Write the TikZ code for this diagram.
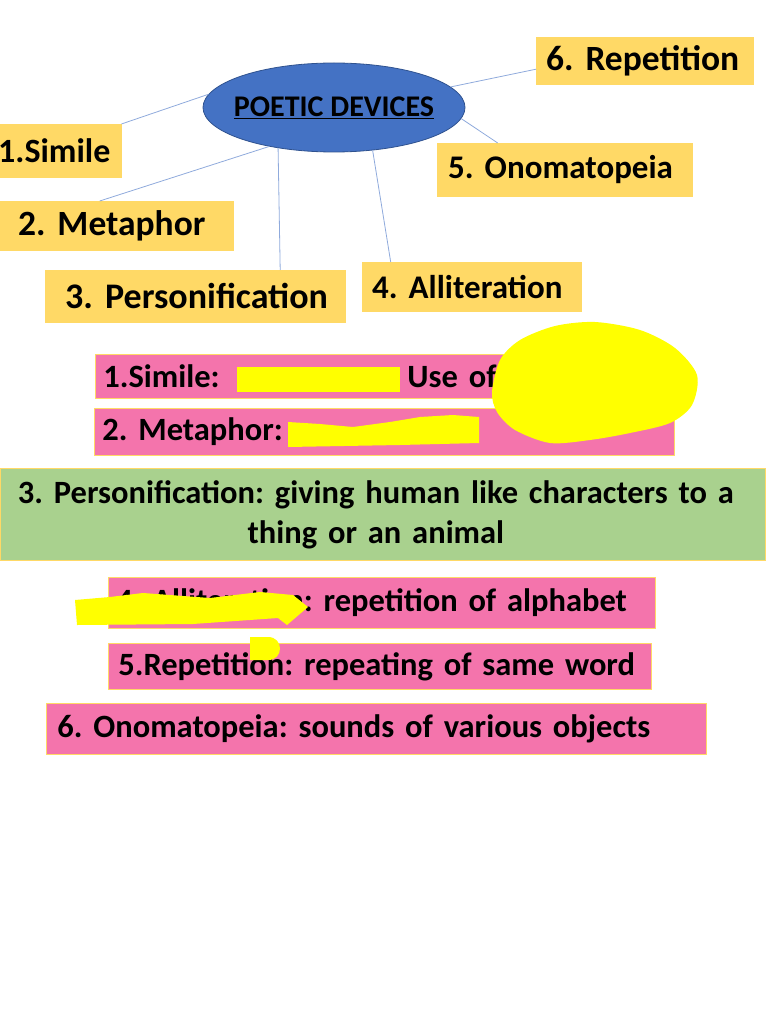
\documentclass[tikz,border=0pt]{standalone}
\usepackage{fontspec}
\setmainfont{Carlito}
\usetikzlibrary{shapes.geometric}
\frenchspacing

\definecolor{devblue}{RGB}{68,114,196}
\definecolor{devedge}{RGB}{47,82,143}
\definecolor{linkblue}{RGB}{143,170,220}
\definecolor{tagyellow}{RGB}{255,217,102}
\definecolor{notepink}{RGB}{244,116,172}
\definecolor{notegreen}{RGB}{169,209,142}
\definecolor{marker}{RGB}{255,255,0}

\tikzset{%
  tag/.style={fill=tagyellow, draw=tagyellow, anchor=north west,
    align=left, inner ysep=0pt, font=\bfseries\fontsize{#1}{42}\selectfont},
  note/.style={fill=notepink, draw=tagyellow, line width=0.8pt, anchor=north west,
    align=left, inner ysep=0pt, font=\bfseries\fontsize{32.5}{40}\selectfont},
  link/.style={draw=linkblue, line width=0.8pt},
  blot/.style={fill=marker, draw=none}
}

\begin{document}
\begin{tikzpicture}[x=1pt, y=-1pt]
     \useasboundingbox (0,0) rectangle (768,1024);

     % the centre
     \node[ellipse, fill=devblue, draw=devedge, line width=0.8pt,
           minimum width=262, minimum height=89, inner sep=0pt,
           font=\bfseries\fontsize{30}{34}\selectfont] (dev) at (334,107.5)
           {\makebox[0pt]{\underline{POETIC DEVICES}}};

     % the six devices round it
     \foreach \n/\x/\y/\w/\h/\p/\s/\t in
       { rep/536/37/217/47/10/35.5/{6. Repetition},
         sim/-6/124/127/53/4/34/{1.Simile},
         ono/437/143/255/53/11/33/{5. Onomatopeia},
         met/0/201/233/49/18/35.5/{2. Metaphor},
         per/45/270/300/52/20/36/{3. Personification},
         all/362/262/219/49/10/33/{4. Alliteration}
       }
       {
       \pgfmathsetmacro\tw{\w-2*\p}
       \node[tag=\s, inner xsep=\p pt, text width=\tw pt, minimum height=\h pt] (\n) at (\x,\y) {\mbox{\t}};
       }

     \draw[link] (dev.174) -- (sim.north east);
     \draw[link] (dev.211) -- ([xshift=-17pt]met.north);
     \draw[link] (dev.216) -- ([xshift=85pt]per.north);
     \draw[link] (dev.312) -- ([xshift=-81pt]all.north);
     \draw[link] (dev.355) -- ([xshift=-67pt]ono.north);
     \draw[link] (dev.10) -- ([yshift=-8.5pt]rep.west);

     % the notes
     \foreach \n/\x/\y/\w/\h/\p/\t in
       { nsim/95/354/576/44/8/{1.Simile: \hspace*{177pt}Use of},
         nmet/94/408/580/47/8/{2. Metaphor:},
         nall/108/577/547/51/8/{4. Alliteration: repetition of alphabet},
         nrep/108/643/543/46/10/{5.Repetition: repeating of same word},
         nono/46/703/660/51/11/{6. Onomatopeia: sounds of various objects}
       }
       {
       \pgfmathsetmacro\tw{\w-2*\p}
       \node[note, inner xsep=\p pt, text width=\tw pt, minimum height=\h pt] (\n) at (\x,\y) {\mbox{\t}};
       }

     \node[note, fill=notegreen, align=center, text width=765pt, inner xsep=0pt,
           minimum height=92pt] (nper) at (0,468)
           {\hspace*{-14pt}3. Personification: giving human like characters to a\\
            \hspace*{-14pt}thing or an animal};

     % yellow marker over the notes
     \fill[blot] plot[smooth cycle] coordinates
       {(492,392) (500,360) (520,340) (555,326) (595,322) (640,330) (675,348)
        (697,375) (692,405) (670,423) (630,433) (590,440) (550,443) (515,430) (497,412)};
     \fill[blot] (237,367) rectangle (400,392);
     \fill[blot] (288,422) -- (320,424) -- (353,427) -- (390,422) -- (420,417)
                 -- (453,415) -- (479,417) -- (479,443) -- (400,445) -- (288,447) -- cycle;
     \fill[blot] (75,600) -- (110,597) -- (143,593) -- (210,598) -- (260,592)
                 -- (293,595) -- (308,607) -- (287,625) -- (278,618) -- (193,624)
                 -- (77,625) -- cycle;
     \fill[blot] (250,637) -- (268,637) .. controls (284,637) and (284,660) .. (268,660)
                 -- (250,660) -- cycle;
\end{tikzpicture}
\end{document}
